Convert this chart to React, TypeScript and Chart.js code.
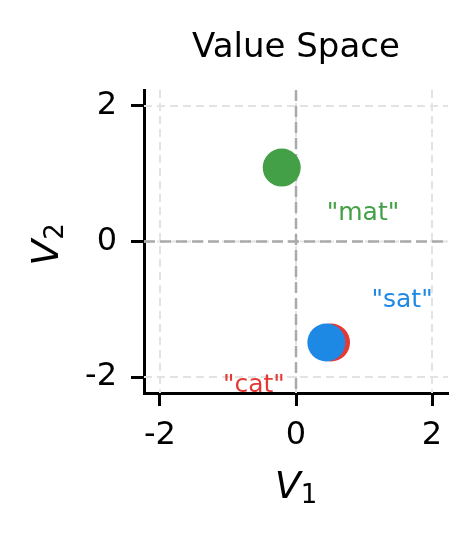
import React, { useEffect, useRef } from 'react';
import { Chart, registerables } from 'chart.js';

Chart.register(...registerables);

// ---- data ----
const words = ['"mat"', '"sat"', '"cat"'];
const v1Values = [-0.21, 0.446, 0.515];
const v2Values = [1.09, -1.49, -1.49];
const labelV1 = [0.985, 1.56, -0.62];
const labelV2 = [0.41, -0.875, -2.125];
const wordColors = ['#43a047', '#1e88e5', '#e53935'];
const tickValues = [-2, 0, 2];
const axisMin = -2.235;
const axisMax = 2.235;
const chartTitle = 'Value Space';
const xAxisBase = 'V';
const xAxisSub = '1';
const yAxisBase = 'V';
const yAxisSub = '2';

const FONT = '"DejaVu Sans", sans-serif';

function drawSubLabel(ctx: CanvasRenderingContext2D, base: string, sub: string) {
  ctx.font = `italic 38px ${FONT}`;
  const wb = ctx.measureText(base).width;
  ctx.font = `26px ${FONT}`;
  const ws = ctx.measureText(sub).width;
  const total = wb + ws;
  ctx.textAlign = 'left';
  ctx.textBaseline = 'alphabetic';
  ctx.fillStyle = '#000';
  ctx.font = `italic 38px ${FONT}`;
  ctx.fillText(base, -total / 2, 0);
  ctx.font = `26px ${FONT}`;
  ctx.fillText(sub, -total / 2 + wb, 5);
}

const decor = {
  id: 'decor',
  beforeDatasetsDraw(chart: any) {
    const { ctx, chartArea: a, scales } = chart;
    const x = scales.x;
    const y = scales.y;
    ctx.save();
    ctx.beginPath();
    ctx.rect(a.left, a.top, a.right - a.left, a.bottom - a.top);
    ctx.clip();
    const line = (x1: number, y1: number, x2: number, y2: number) => {
      ctx.beginPath();
      ctx.moveTo(x1, y1);
      ctx.lineTo(x2, y2);
      ctx.stroke();
    };
    ctx.lineWidth = 2;
    ctx.strokeStyle = '#e3e3e3';
    ctx.setLineDash([8, 5]);
    for (const t of tickValues) {
      const px = x.getPixelForValue(t);
      line(px, a.top, px, a.bottom);
      const py = y.getPixelForValue(t);
      line(a.left, py, a.right, py);
    }
    ctx.lineWidth = 2.5;
    ctx.strokeStyle = '#aaaaaa';
    ctx.setLineDash([11, 5]);
    const zx = x.getPixelForValue(0);
    const zy = y.getPixelForValue(0);
    line(a.left, zy, a.right, zy);
    line(zx, a.top, zx, a.bottom);
    ctx.restore();
  },
  afterDatasetsDraw(chart: any) {
    const { ctx, scales } = chart;
    ctx.save();
    ctx.font = `25px ${FONT}`;
    ctx.textAlign = 'center';
    ctx.textBaseline = 'middle';
    words.forEach((w, i) => {
      ctx.fillStyle = wordColors[i];
      ctx.fillText(w, scales.x.getPixelForValue(labelV1[i]), scales.y.getPixelForValue(labelV2[i]));
    });
    ctx.restore();
  },
  afterDraw(chart: any) {
    const { ctx, chartArea: a } = chart;
    const cx = (a.left + a.right) / 2;
    const cy = (a.top + a.bottom) / 2;
    ctx.save();
    ctx.fillStyle = '#000';
    ctx.font = `34px ${FONT}`;
    ctx.textAlign = 'center';
    ctx.textBaseline = 'alphabetic';
    ctx.fillText(chartTitle, cx, 57);
    ctx.restore();

    ctx.save();
    ctx.translate(cx, a.bottom + 105);
    drawSubLabel(ctx, xAxisBase, xAxisSub);
    ctx.restore();

    ctx.save();
    ctx.translate(58, cy + 3);
    ctx.rotate(-Math.PI / 2);
    drawSubLabel(ctx, yAxisBase, yAxisSub);
    ctx.restore();
  },
};

export default function App() {
  const ref = useRef<HTMLCanvasElement | null>(null);
  useEffect(() => {
    if (!ref.current) return;
    const datasets = words.map((w, i) => ({
      label: w,
      data: [{ x: v1Values[i], y: v2Values[i] }],
      backgroundColor: wordColors[i],
      borderWidth: 0,
      pointRadius: 19,
      pointHoverRadius: 19,
    }));
    const scaleCommon = (axis: string) => ({
      type: 'linear' as const,
      min: axisMin,
      max: axisMax,
      afterBuildTicks: (scale: any) => {
        scale.ticks = tickValues.map((v) => ({ value: v }));
      },
      afterFit: (scale: any) => {
        if (axis === 'x') scale.height = 141;
        else scale.width = 144;
      },
      grid: {
        drawOnChartArea: false,
        drawTicks: true,
        tickLength: 13,
        tickWidth: 3,
        tickColor: '#000',
      },
      border: { display: true, color: '#000', width: 3 },
      ticks: {
        color: '#000',
        font: { family: FONT, size: 32 },
        padding: axis === 'x' ? 10 : 14,
      },
    });
    const chart = new Chart(ref.current, {
      type: 'scatter',
      data: { datasets },
      options: {
        responsive: false,
        animation: false,
        layout: { padding: { top: 90, right: 26, left: 0, bottom: 0 } },
        plugins: { legend: { display: false }, tooltip: { enabled: false }, title: { display: false } },
        scales: { x: scaleCommon('x'), y: scaleCommon('y') },
      },
      plugins: [decor],
    });
    return () => chart.destroy();
  }, []);
  return (
    <div style={{ position: 'absolute', left: 0, top: 0, width: 474, height: 534, background: '#fff' }}>
      <canvas ref={ref} width={474} height={534} style={{ display: 'block' }} />
    </div>
  );
}
